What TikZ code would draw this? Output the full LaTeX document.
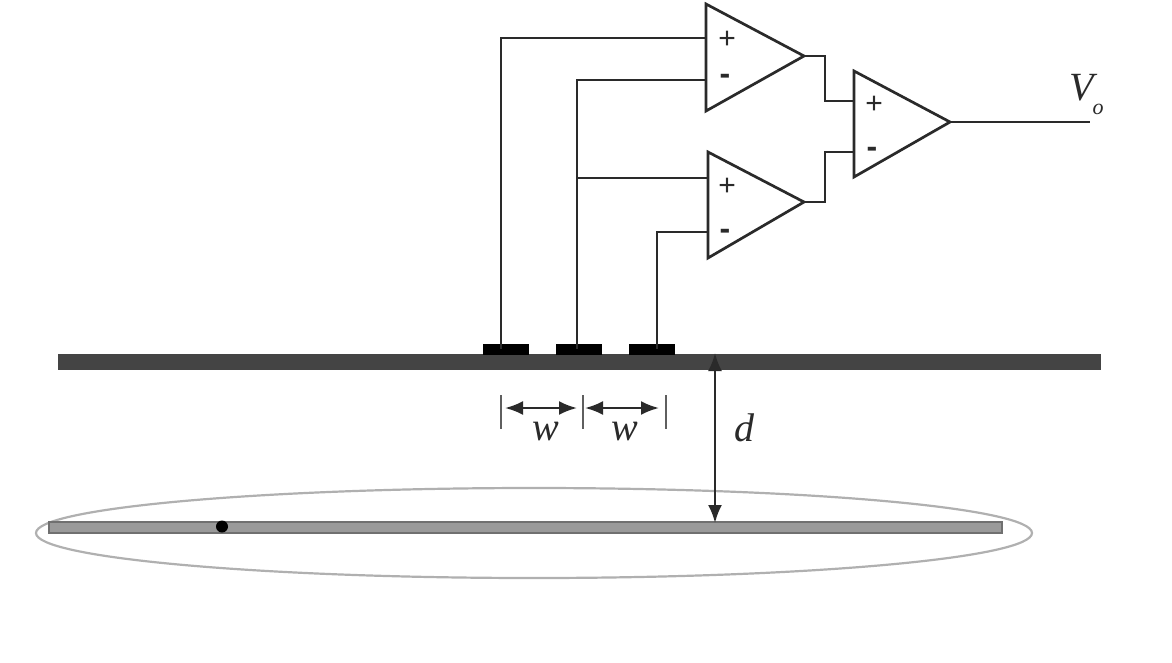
\documentclass[tikz,border=0pt]{standalone}
\usepackage{fontspec}
\setmainfont{Liberation Serif}
\setsansfont{Liberation Sans}
\usetikzlibrary{arrows.meta,calc,shapes.geometric}
\definecolor{wirec}{HTML}{2A2A2A}
\definecolor{plate}{HTML}{444444}
\definecolor{strip}{HTML}{9A9A9A}
\definecolor{stripedge}{HTML}{707070}
\definecolor{halo}{HTML}{B0B0B0}
\tikzset{
  wire/.style={draw=wirec,line width=2.3pt,line join=miter},
  amp/.style={draw=wirec,line width=2.7pt,fill=white,line join=miter},
  sign/.style={font=\sffamily\fontsize{30}{30}\selectfont,text=wirec,inner sep=0pt},
  minussign/.style={font=\sffamily\bfseries\fontsize{32}{32}\selectfont,text=wirec,inner sep=0pt},
  lab/.style={font=\itshape\fontsize{40}{40}\selectfont,text=wirec,inner sep=0pt},
  sublab/.style={font=\itshape\fontsize{22}{22}\selectfont,text=wirec,inner sep=0pt},
  dim/.style={draw=wirec,line width=2.4pt,{Latex[length=18pt,width=14pt]}-{Latex[length=18pt,width=14pt]}},
  tick/.style={draw=wirec!75,line width=2.4pt},
  padbox/.style={fill=black,draw=none},
}
\begin{document}
\begin{tikzpicture}[x=1pt,y=-1pt]
\useasboundingbox (0,0) rectangle (1172,662);
\fill[white] (0,0) rectangle (1172,662);
% pick-up ellipse and lower strip
\node[draw=halo,line width=2.2pt,ellipse,minimum width=996pt,minimum height=90pt,inner sep=0pt] (cloud) at (534,533) {};
\node[draw=stripedge,fill=strip,line width=2pt,minimum width=953pt,minimum height=11pt,inner sep=0pt] (stripbar) at (525,527) {};
\node[circle,fill=black,minimum size=12pt,inner sep=0pt] (dot) at (222,526.5) {};
% upper plate and pads
\node[fill=plate,minimum width=1043pt,minimum height=16pt,inner sep=0pt] (plate) at (579.5,362) {};
\node[padbox,minimum width=46pt,minimum height=11pt,inner sep=0pt] (p1) at (505.5,349) {};
\node[padbox,minimum width=46pt,minimum height=11pt,inner sep=0pt] (p2) at (579,349) {};
\node[padbox,minimum width=46pt,minimum height=11pt,inner sep=0pt] (p3) at (651.5,349) {};
% amplifier pins
\coordinate (a1p) at (706,38); \coordinate (a1m) at (706,80); \coordinate (a1o) at (804,56);
\coordinate (a2p) at (708,178); \coordinate (a2m) at (708,232); \coordinate (a2o) at (804,202);
\coordinate (a3p) at (854,101); \coordinate (a3m) at (854,152); \coordinate (a3o) at (950,122);
\coordinate (vout) at (1090,122);
\coordinate (j2) at (577,178);
\coordinate (t1) at (501,349); \coordinate (t2) at (577,349); \coordinate (t3) at (657,349);
% wires
\draw[wire] (t1) |- (a1p);
\draw[wire] (t2) |- (a1m);
\draw[wire] (j2) -- (a2p);
\draw[wire] (t3) |- (a2m);
\draw[wire] (a1o) -- (825,56) -- (825,101) -- (a3p);
\draw[wire] (a2o) -- (825,202) -- (825,152) -- (a3m);
\draw[wire] (a3o) -- (vout);
% amplifiers
\draw[amp] (706,4) -- (a1o) -- (706,111) -- cycle;
\draw[amp] (708,152) -- (a2o) -- (708,258) -- cycle;
\draw[amp] (854,71) -- (a3o) -- (854,177) -- cycle;
\node[sign] (a1plus) at (727,40) {+};
\node[minussign] (a1minus) at (725,79) {-};
\node[sign] (a2plus) at (727,187) {+};
\node[minussign] (a2minus) at (725,234) {-};
\node[sign] (a3plus) at (874,105) {+};
\node[minussign] (a3minus) at (872,152) {-};
\node[lab] (vo) at (1082,88) {V};
\node[sublab] (vosub) at (1098,109) {o};
% dimensions
\coordinate (tk1) at (501,412); \coordinate (tk2) at (583,412); \coordinate (tk3) at (666,412);
\draw[tick] ($(tk1)+(0,-17)$) -- ($(tk1)+(0,17)$);
\draw[tick] ($(tk2)+(0,-17)$) -- ($(tk2)+(0,17)$);
\draw[tick] ($(tk3)+(0,-17)$) -- ($(tk3)+(0,17)$);
\draw[dim] ($(tk1)+(4,-4)$) -- ($(tk2)+(-6,-4)$);
\draw[dim] ($(tk2)+(2,-4)$) -- ($(tk3)+(-7,-4)$);
\node[lab] (w1) at (546,432) {w};
\node[lab] (w2) at (625,432) {w};
\coordinate (dtop) at (715,353); \coordinate (dbot) at (715,523);
\draw[dim] (dtop) -- (dbot);
\node[lab] (dlab) at (744,428) {d};
\end{tikzpicture}
\end{document}
